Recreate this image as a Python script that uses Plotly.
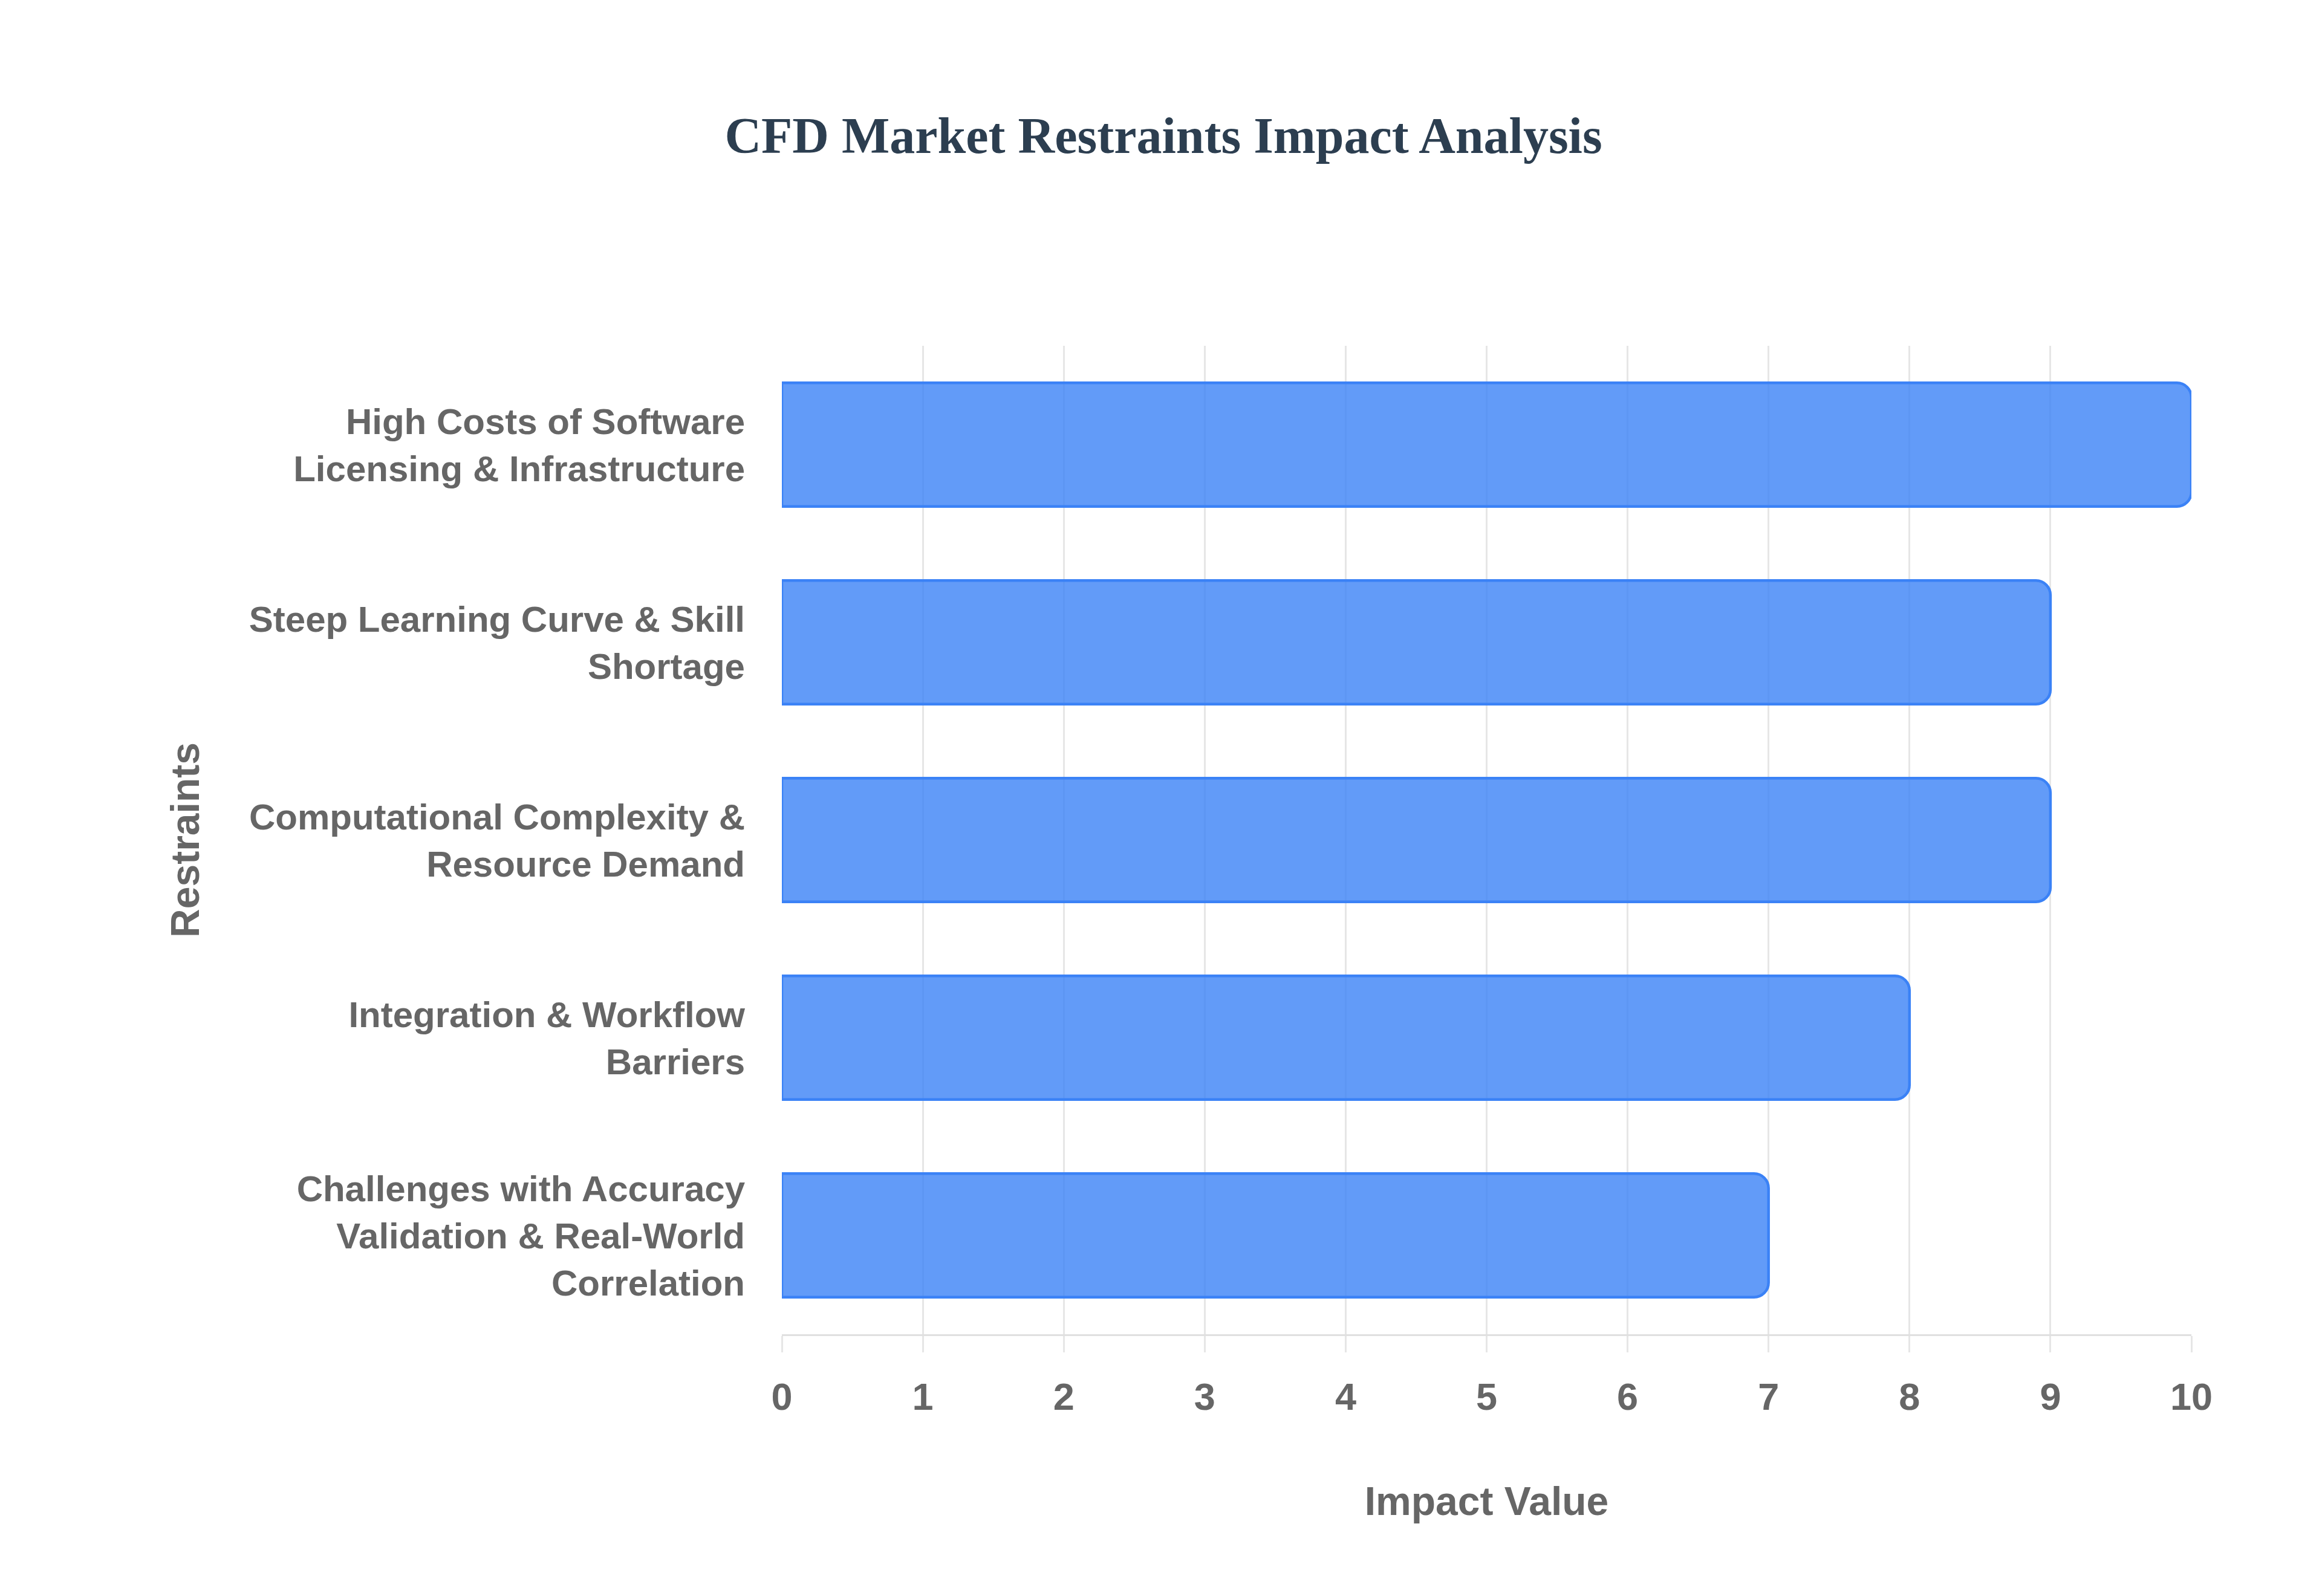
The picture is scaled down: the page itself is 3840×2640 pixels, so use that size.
import plotly.graph_objects as go

restraints = [
    "High Costs of Software<br>Licensing & Infrastructure",
    "Steep Learning Curve & Skill<br>Shortage",
    "Computational Complexity &<br>Resource Demand",
    "Integration & Workflow<br>Barriers",
    "Challenges with Accuracy<br>Validation & Real-World<br>Correlation",
]
impact = [10, 9, 9, 8, 7]
x_ticks = [0, 1, 2, 3, 4, 5, 6, 7, 8, 9, 10]

S = 3  # everything drawn at 3x

fig = go.Figure()
fig.add_trace(go.Bar(
    x=impact, y=restraints,
    orientation='h',
    marker=dict(color='rgba(59,130,246,0.8)',
                line=dict(color='#3b82f6', width=1.5 * S),
                cornerradius=8 * S),
    showlegend=False,
))

sans = "Liberation Sans, Arial, sans-serif"

# page body adds an 8px offset, so the figure is 8px smaller
fig.update_layout(
    width=3832, height=2632,
    paper_bgcolor='white', plot_bgcolor='white',
    margin=dict(l=1285, r=216, t=564, b=433),
    bargap=0.375,
    title=dict(text="<b>CFD Market Restraints Impact Analysis</b>",
               x=0.5, xanchor='center', y=0.918, yref='container', yanchor='middle',
               font=dict(family="Liberation Serif, Times New Roman, serif", size=28 * S, color='#2c3e50')),
    xaxis=dict(
        range=[0, 10], tickvals=x_ticks,
        showgrid=True, gridcolor='#e6e6e6', gridwidth=1 * S,
        zeroline=False,
        showline=True, linecolor='#e0e0e0', linewidth=1 * S,
        ticks='outside', ticklen=9 * S, tickwidth=1 * S, tickcolor='#e6e6e6',
        ticklabelstandoff=19,
        tickfont=dict(family=sans, size=21 * S, color='#666666', weight='bold'),
        title=dict(text="Impact Value", standoff=117,
                   font=dict(family=sans, size=22 * S, color='#666666', weight='bold')),
    ),
    yaxis=dict(
        autorange='reversed',
        showgrid=False, zeroline=False, showline=False,
        ticks='', ticklabelstandoff=60,
        tickfont=dict(family=sans, size=20 * S, color='#666666', weight='bold'),
        title=dict(text="Restraints", standoff=20 * S,
                   font=dict(family=sans, size=22 * S, color='#666666', weight='bold')),
    ),
)

fig.write_html("out.html")
